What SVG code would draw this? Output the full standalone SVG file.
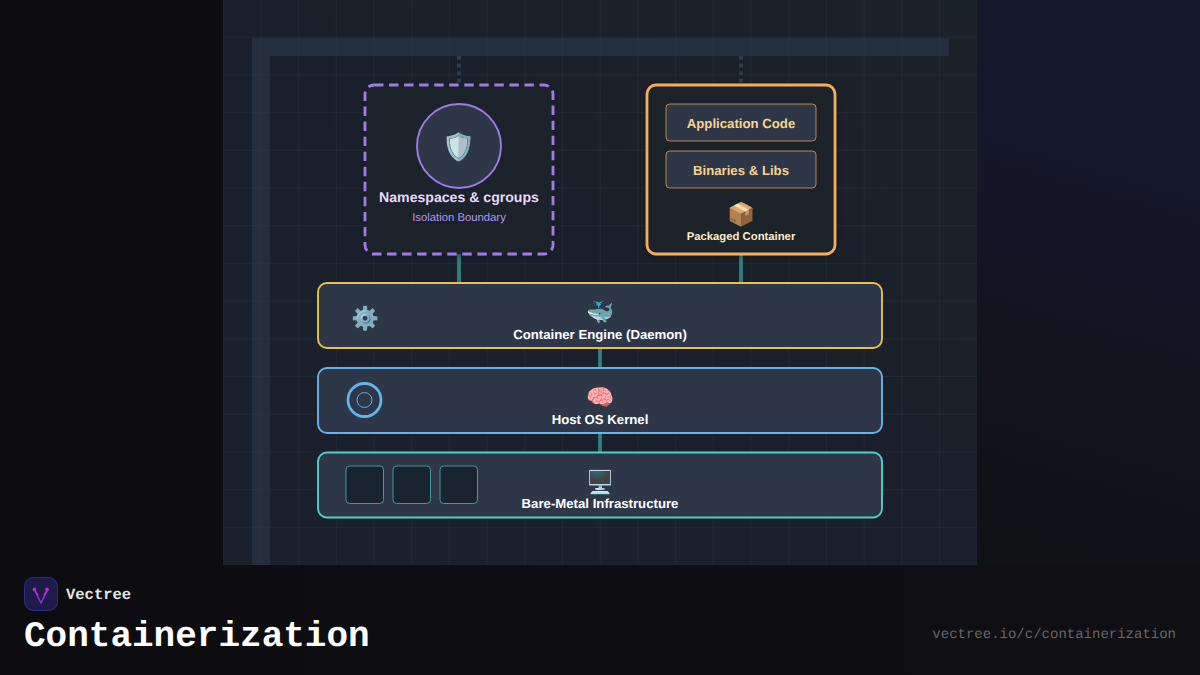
<svg xmlns="http://www.w3.org/2000/svg" width="1200" height="675" viewBox="0 0 1200 675">
<style>
text{text-rendering:geometricPrecision}
.s{font-family:"Liberation Sans",Arial,sans-serif;font-weight:700;text-anchor:middle}
.m{font-family:"Liberation Mono","Courier New",monospace}
.e{font-family:"Noto Color Emoji","Liberation Sans",sans-serif;text-anchor:middle}
.layer{fill:#2d3748;stroke-width:1.9}
.link{stroke:#2f7f7e;stroke-width:3.8;fill:none}
.dot{stroke:#2d3f4f;stroke-width:3.8;stroke-dasharray:3.8 3.8;fill:none}
.chip{fill:#2d3748;stroke:#f6ad55;stroke-opacity:.75;stroke-width:.95}
.chipt{fill:#fbd38d;font-size:13.2px}
.srv{fill:#1a2330;stroke:#4fd1c5;stroke-opacity:.7;stroke-width:.95}
</style>
<defs>
<linearGradient id="bg" x1="0" y1="0" x2="1" y2="0">
<stop offset="0" stop-color="#0c0c10"/><stop offset=".5" stop-color="#0e0e13"/><stop offset="1" stop-color="#0f0f14"/>
</linearGradient>
<linearGradient id="glow" gradientUnits="userSpaceOnUse" x1="1120" y1="150" x2="1000" y2="560">
<stop offset="0" stop-color="#15172b"/><stop offset="1" stop-color="#101114"/>
</linearGradient>
<linearGradient id="panel" gradientUnits="userSpaceOnUse" x1="977" y1="0" x2="600" y2="565">
<stop offset="0" stop-color="#1a2229"/><stop offset=".6" stop-color="#1a202b"/><stop offset="1" stop-color="#1a202c"/>
</linearGradient>
<pattern id="grid" patternUnits="userSpaceOnUse" x="223.700" y="0" width="37.7" height="37.7">
<path d="M37.7 0V37.7M0 37.7H37.7" fill="none" stroke="#2d3a4a" stroke-opacity=".6" stroke-width="1"/>
</pattern>
<filter id="sh" x="-10%" y="-10%" width="120%" height="125%"><feDropShadow dx="0" dy="2" stdDeviation="3" flood-color="#000" flood-opacity=".25"/></filter>
<linearGradient id="logoV" x1="0" y1="0" x2="0" y2="1"><stop offset="0" stop-color="#c026d3"/><stop offset="1" stop-color="#7c3aed"/></linearGradient>
</defs>
<g id="background">
<rect width="1200" height="675" fill="url(#bg)"/>
<rect x="977" y="0" width="223" height="565" fill="url(#glow)"/>
<rect x="223" y="0" width="754" height="565" fill="url(#panel)"/>
<rect x="223" y="0" width="754" height="565" fill="url(#grid)"/>
<path d="M252 38H949V56H270V565H252Z" fill="#2d3a4c" fill-opacity=".55"/>
</g>
<g id="connectors">
<path class="dot" d="M459 56V85"/>
<path class="dot" d="M741 56V85"/>
<path class="link" d="M459 254V283"/>
<path class="link" d="M741 254V283"/>
<path class="link" d="M600 348V368"/>
<path class="link" d="M600 433V452"/>
</g>
<g id="isolation">
<rect x="365" y="85" width="188" height="169" rx="9" fill="#1a202c" stroke="#9f7aea" stroke-width="2.8" stroke-dasharray="9.4 5.65" filter="url(#sh)"/>
<circle cx="459" cy="146" r="42" fill="#2d3748" stroke="#9f7aea" stroke-width="1.9"/>
<text class="e" x="459" y="155.500" font-size="26.4">🛡️</text>
<text class="s" x="459" y="202" font-size="14.1" fill="#e9d8fd">Namespaces &amp; cgroups</text>
<text x="459" y="221" font-size="11.3" fill="#b794f4" font-family="Liberation Sans, Arial, sans-serif" text-anchor="middle">Isolation Boundary</text>
</g>
<g id="container">
<rect x="647" y="85" width="188" height="169" rx="9" fill="#1a202c" stroke="#f6ad55" stroke-width="2.8" filter="url(#sh)"/>
<g id="app-code"><rect class="chip" x="666" y="104" width="150" height="37" rx="3.8"/><text class="s chipt" x="741" y="128">Application Code</text></g>
<g id="binaries"><rect class="chip" x="666" y="151" width="150" height="37" rx="3.8"/><text class="s chipt" x="741" y="175">Binaries &amp; Libs</text></g>
<text class="e" x="741" y="222" font-size="22.6">📦</text>
<text class="s" x="741" y="240" font-size="11.3" fill="#feebc8">Packaged Container</text>
</g>
<g id="engine">
<rect class="layer" x="318" y="283" width="564" height="65" rx="9" stroke="#e6c04a"/>
<text class="e" x="365" y="326" font-size="22.6">⚙️</text>
<text class="e" x="600" y="320" font-size="22.6">🐳</text>
<text class="s" x="600" y="339" font-size="13.2" fill="#fff">Container Engine (Daemon)</text>
</g>
<g id="kernel">
<rect class="layer" x="318" y="368" width="564" height="65" rx="9" stroke="#63b3ed"/>
<circle cx="364.500" cy="400" r="16.500" fill="none" stroke="#63b3ed" stroke-width="2.8"/>
<circle cx="364.500" cy="400" r="7.500" fill="none" stroke="#63b3ed" stroke-width=".95"/>
<text class="e" x="600" y="405" font-size="22.6">🧠</text>
<text class="s" x="600" y="424" font-size="13.2" fill="#fff">Host OS Kernel</text>
</g>
<g id="infrastructure">
<rect class="layer" x="318" y="452.500" width="564" height="65" rx="9" stroke="#4fd1c5"/>
<rect class="srv" x="346" y="466" width="37.500" height="37.500" rx="3.8"/>
<rect class="srv" x="393" y="466" width="37.500" height="37.500" rx="3.8"/>
<rect class="srv" x="440" y="466" width="37.500" height="37.500" rx="3.8"/>
<text class="e" x="600" y="490" font-size="22.6">🖥️</text>
<text class="s" x="600" y="508" font-size="13.2" fill="#fff">Bare-Metal Infrastructure</text>
</g>
<g id="branding">
<rect x="24.500" y="577.500" width="33" height="33" rx="9" fill="#1e1b4b" stroke="#312e81"/>
<path d="M35.500 592L41 603L46.500 592" fill="none" stroke="url(#logoV)" stroke-width="1.4" stroke-linecap="round"/>
<path d="M34.500 590L38 595M47.500 590L44 595" fill="none" stroke="#a62bd0" stroke-width="1.4" stroke-linecap="round"/>
<circle cx="34.500" cy="589.500" r="1.900" fill="#c026d3"/><circle cx="47" cy="589.500" r="1.900" fill="#c026d3"/>
<text class="m" x="66" y="598.500" font-size="15.500" font-weight="700" fill="#e5e5e5">Vectree</text>
<text class="m" x="24" y="645.500" font-size="36" font-weight="700" fill="#fff">Containerization</text>
<text class="m" x="1176" y="638" font-size="14" fill="#666" text-anchor="end">vectree.io/c/containerization</text>
</g>
</svg>
